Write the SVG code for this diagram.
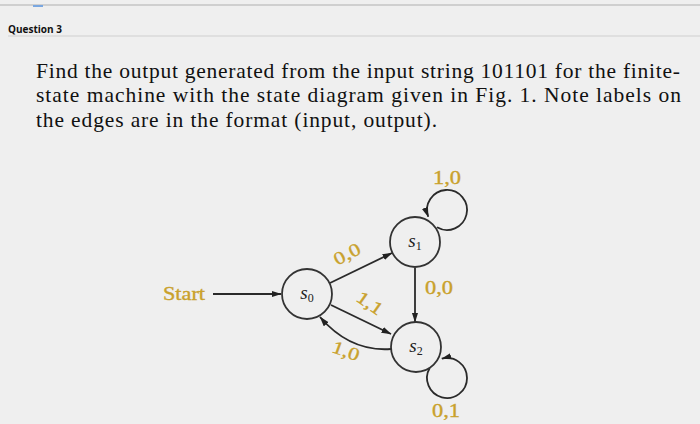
<svg xmlns="http://www.w3.org/2000/svg" width="700" height="424" viewBox="0 0 700 424">
<style>
.q{font-family:"Liberation Serif","Times New Roman",serif;font-size:21.5px;fill:#111}
.lbl{font-family:"Liberation Serif","Times New Roman",serif;font-size:18px;fill:#c9a12c;stroke:#c9a12c;stroke-width:0.35}
.st{font-family:"Liberation Serif","Times New Roman",serif;font-size:19px;font-style:italic;fill:#222}
.sub{font-size:12px;font-style:normal}
.node{fill:none;stroke:#333;stroke-width:1.8}
.edge{fill:none;stroke:#2a2a2a;stroke-width:1.8}
</style>
<defs>
<marker id="ah" markerWidth="10" markerHeight="8" refX="9.5" refY="4" orient="auto" markerUnits="userSpaceOnUse">
<path d="M0,0.8 L10,4 L0,7.2 Z" fill="#222"/>
</marker>
</defs>
<rect width="700" height="424" fill="#efefef"/>
<line x1="0" y1="5" x2="700" y2="5" stroke="#c4c4c4" stroke-width="1.5"/>
<line x1="33" y1="6" x2="43" y2="6" stroke="#7aa7e0" stroke-width="2"/>
<text x="8" y="33" font-family="'Open Sans','Liberation Sans',sans-serif" font-size="10" font-weight="bold" fill="#111">Question 3</text>
<line x1="8" y1="36" x2="700" y2="36" stroke="#cfcfcf" stroke-width="1"/>
<text class="q" x="36" y="78" textLength="644" lengthAdjust="spacing">Find the output generated from the input string 101101 for the finite-</text>
<text class="q" x="36" y="102" textLength="645" lengthAdjust="spacing">state machine with the state diagram given in Fig. 1.  Note labels on</text>
<text class="q" x="36" y="127" textLength="401" lengthAdjust="spacing">the edges are in the format (input, output).</text>
<g id="connectors">
<line class="edge" x1="213" y1="294" x2="281" y2="294" marker-end="url(#ah)"/>
<line class="edge" x1="330" y1="283" x2="392" y2="253" marker-end="url(#ah)"/>
<line class="edge" x1="331" y1="305" x2="391" y2="334" marker-end="url(#ah)"/>
<path class="edge" d="M391,349 Q350,352 320,317" marker-end="url(#ah)"/>
<line class="edge" x1="415" y1="268" x2="415" y2="322" marker-end="url(#ah)"/>
<path class="edge" d="M437,227.3 A20,20 0 1 0 428.2,216.8" marker-end="url(#ah)"/>
<path class="edge" d="M429.7,368 A20,20 0 1 0 441.8,358.7" marker-end="url(#ah)"/>
<text class="lbl" x="163" y="300" textLength="42" lengthAdjust="spacingAndGlyphs">Start</text>
<text class="lbl" x="347" y="260" text-anchor="middle" transform="rotate(-27 347 254)" textLength="28" lengthAdjust="spacingAndGlyphs">0,0</text>
<text class="lbl" x="370" y="309" text-anchor="middle" transform="rotate(35 370 303)" textLength="28" lengthAdjust="spacingAndGlyphs">1,1</text>
<text class="lbl" x="346" y="357" text-anchor="middle" transform="rotate(20 346 351)" textLength="28" lengthAdjust="spacingAndGlyphs">1,0</text>
<text class="lbl" x="439" y="294" text-anchor="middle" textLength="28" lengthAdjust="spacingAndGlyphs">0,0</text>
<text class="lbl" x="447" y="184" text-anchor="middle" textLength="28" lengthAdjust="spacingAndGlyphs">1,0</text>
<text class="lbl" x="446" y="417" text-anchor="middle" textLength="28" lengthAdjust="spacingAndGlyphs">0,1</text>
</g>
<g id="s0">
<circle class="node" cx="307" cy="294" r="25"/>
<text class="st" x="307" y="299" text-anchor="middle">s<tspan class="sub" dy="3">0</tspan></text>
</g>
<g id="s1">
<circle class="node" cx="415" cy="242" r="25"/>
<text class="st" x="415" y="247" text-anchor="middle">s<tspan class="sub" dy="3">1</tspan></text>
</g>
<g id="s2">
<circle class="node" cx="416" cy="347" r="25"/>
<text class="st" x="416" y="352" text-anchor="middle">s<tspan class="sub" dy="3">2</tspan></text>
</g>
</svg>
